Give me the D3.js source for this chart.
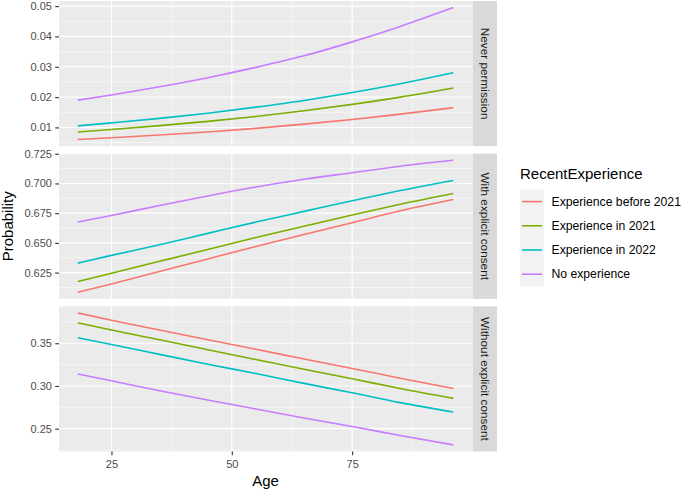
<!DOCTYPE html>
<html>
<head>
	<title></title>
	<script src="https://d3js.org/d3.v7.min.js" charset="utf-8"></script>
	<style type="text/css">
		body {
			margin: 0;
			background: white;
		}
		svg text {
			font-family: 'Liberation Sans', Arial, sans-serif;
		}
	</style>
</head>
<body>
	<script type="text/javascript">
		var w = 685;
		var h = 491;

		var ages = [18, 25, 35, 45, 55, 65, 75, 85, 96];
		var groups = ['Experience before 2021', 'Experience in 2021', 'Experience in 2022', 'No experience'];
		var colors = ['#F8766D', '#7CAE00', '#00BFC4', '#C77CFF'];
		var facets = ['Never permission', 'With explicit consent', 'Without explicit consent'];

		// Never permission
		var neverBefore2021 = [0.0060, 0.0066, 0.0075, 0.0085, 0.0097, 0.0111, 0.0126, 0.0144, 0.0165];
		var never2021 = [0.0085, 0.0093, 0.0106, 0.0120, 0.0136, 0.0155, 0.0176, 0.0200, 0.0230];
		var never2022 = [0.0105, 0.0115, 0.0130, 0.0147, 0.0167, 0.0189, 0.0215, 0.0244, 0.0280];
		var neverNone = [0.0190, 0.0207, 0.0234, 0.0264, 0.0298, 0.0336, 0.0382, 0.0433, 0.0495];

		// With explicit consent
		var withBefore2021 = [0.6085, 0.6155, 0.6260, 0.6365, 0.6470, 0.6570, 0.6670, 0.6770, 0.6865];
		var with2021 = [0.6175, 0.6245, 0.6345, 0.6445, 0.6545, 0.6640, 0.6735, 0.6825, 0.6915];
		var with2022 = [0.6330, 0.6395, 0.6485, 0.6580, 0.6675, 0.6765, 0.6855, 0.6940, 0.7025];
		var withNone = [0.6675, 0.6730, 0.6815, 0.6895, 0.6970, 0.7035, 0.7090, 0.7145, 0.7195];

		// Without explicit consent
		var withoutBefore2021 = [0.3855, 0.3770, 0.3655, 0.3540, 0.3430, 0.3315, 0.3205, 0.3090, 0.2970];
		var without2021 = [0.3740, 0.3655, 0.3540, 0.3425, 0.3310, 0.3195, 0.3085, 0.2970, 0.2855];
		var without2022 = [0.3565, 0.3485, 0.3370, 0.3255, 0.3145, 0.3030, 0.2920, 0.2805, 0.2695];
		var withoutNone = [0.3140, 0.3060, 0.2945, 0.2835, 0.2730, 0.2625, 0.2525, 0.2420, 0.2310];

		var xTicks = [25, 50, 75];
		var neverTicks = [0.01, 0.02, 0.03, 0.04, 0.05];
		var withTicks = [0.625, 0.650, 0.675, 0.700, 0.725];
		var withoutTicks = [0.25, 0.30, 0.35];

		var panels = [
			{ name: facets[0], series: [neverBefore2021, never2021, never2022, neverNone], ticks: neverTicks, fmt: d3.format('.2f') },
			{ name: facets[1], series: [withBefore2021, with2021, with2022, withNone], ticks: withTicks, fmt: d3.format('.3f') },
			{ name: facets[2], series: [withoutBefore2021, without2021, without2022, withoutNone], ticks: withoutTicks, fmt: d3.format('.2f') }
		];

		var plotLeft = 59, plotRight = 472;
		var plotTop = 1, plotBottom = 451.5;
		var gap = 7.5;
		var ph = (plotBottom - plotTop - 2 * gap) / 3;
		var stripW = 24.5;
		var tickFont = '11px';

		var svg = d3.select('body')
			.append('svg')
			.attr('width', w)
			.attr('height', h);

		// ggplot style 5% expansion
		function expand(lo, hi) {
			var d = (hi - lo) * 0.05;
			return [lo - d, hi + d];
		}

		var x = d3.scaleLinear()
			.domain(expand(d3.min(ages), d3.max(ages)))
			.range([plotLeft, plotRight]);

		var xMinor = [];
		for (var i = 0; i < xTicks.length; i++) xMinor.push(xTicks[i] + 12.5);
		xMinor.push(xTicks[0] - 12.5);
		xMinor = xMinor.filter(function (v) { return v > x.domain()[0] && v < x.domain()[1]; });

		panels.forEach(function (p, pi) {
			var y0 = plotTop + pi * (ph + gap);
			var all = d3.merge(p.series);
			var y = d3.scaleLinear()
				.domain(expand(d3.min(all), d3.max(all)))
				.range([y0 + ph, y0]);

			var g = svg.append('g');

			g.append('rect')
				.attr('x', plotLeft)
				.attr('y', y0)
				.attr('width', plotRight - plotLeft)
				.attr('height', ph)
				.attr('fill', '#EBEBEB');

			// minor grid
			var step = p.ticks[1] - p.ticks[0];
			var yMinor = p.ticks.map(function (t) { return t + step / 2; });
			yMinor.push(p.ticks[0] - step / 2);
			yMinor = yMinor.filter(function (v) { return v > y.domain()[0] && v < y.domain()[1]; });

			g.selectAll('.ymin')
				.data(yMinor)
				.enter()
				.append('line')
				.attr('x1', plotLeft).attr('x2', plotRight)
				.attr('y1', function (d) { return y(d); })
				.attr('y2', function (d) { return y(d); })
				.attr('stroke', 'white')
				.attr('stroke-width', 0.55);

			g.selectAll('.xmin')
				.data(xMinor)
				.enter()
				.append('line')
				.attr('y1', y0).attr('y2', y0 + ph)
				.attr('x1', function (d) { return x(d); })
				.attr('x2', function (d) { return x(d); })
				.attr('stroke', 'white')
				.attr('stroke-width', 0.55);

			// major grid
			g.selectAll('.ymaj')
				.data(p.ticks)
				.enter()
				.append('line')
				.attr('x1', plotLeft).attr('x2', plotRight)
				.attr('y1', function (d) { return y(d); })
				.attr('y2', function (d) { return y(d); })
				.attr('stroke', 'white')
				.attr('stroke-width', 1.1);

			g.selectAll('.xmaj')
				.data(xTicks)
				.enter()
				.append('line')
				.attr('y1', y0).attr('y2', y0 + ph)
				.attr('x1', function (d) { return x(d); })
				.attr('x2', function (d) { return x(d); })
				.attr('stroke', 'white')
				.attr('stroke-width', 1.1);

			var line = d3.line()
				.x(function (d, i) { return x(ages[i]); })
				.y(function (d) { return y(d); })
				.curve(d3.curveMonotoneX);

			g.selectAll('path.series')
				.data(p.series)
				.enter()
				.append('path')
				.attr('d', line)
				.attr('fill', 'none')
				.attr('stroke', function (d, i) { return colors[i]; })
				.attr('stroke-width', 1.6);

			// y axis
			var yAxis = d3.axisLeft(y)
				.tickValues(p.ticks)
				.tickFormat(p.fmt)
				.tickSize(3.8)
				.tickPadding(3.3);

			var ya = svg.append('g')
				.attr('transform', 'translate(' + plotLeft + ',0)')
				.call(yAxis);
			ya.select('.domain').remove();
			ya.selectAll('line').attr('stroke', '#333333').attr('stroke-width', 1.1);
			ya.selectAll('text')
				.attr('fill', '#4D4D4D')
				.style('font-size', tickFont)
				.style('font-family', "'Liberation Sans', Arial, sans-serif");

			// strip
			svg.append('rect')
				.attr('x', plotRight + 0.5)
				.attr('y', y0)
				.attr('width', stripW)
				.attr('height', ph)
				.attr('fill', '#D9D9D9');

			svg.append('text')
				.text(p.name)
				.attr('transform', 'translate(' + (plotRight + 0.5 + stripW / 2) + ',' + (y0 + ph / 2) + ') rotate(90)')
				.attr('text-anchor', 'middle')
				.attr('dy', '0.35em')
				.style('font-size', '11.8px')
				.style('fill', '#1A1A1A');
		});

		// x axis on bottom panel
		var xAxis = d3.axisBottom(x)
			.tickValues(xTicks)
			.tickSize(3.8)
			.tickPadding(5);

		var xa = svg.append('g')
			.attr('transform', 'translate(0,' + plotBottom + ')')
			.call(xAxis);
		xa.select('.domain').remove();
		xa.selectAll('line').attr('stroke', '#333333').attr('stroke-width', 1.1);
		xa.selectAll('text')
			.attr('fill', '#4D4D4D')
			.style('font-size', tickFont)
			.style('font-family', "'Liberation Sans', Arial, sans-serif");

		svg.append('text')
			.text('Age')
			.attr('x', (plotLeft + plotRight) / 2)
			.attr('y', 486)
			.attr('text-anchor', 'middle')
			.style('font-size', '15px')
			.style('fill', 'black');

		svg.append('text')
			.text('Probability')
			.attr('transform', 'translate(12.5,' + ((plotTop + plotBottom) / 2) + ') rotate(-90)')
			.attr('text-anchor', 'middle')
			.style('font-size', '15px')
			.style('fill', 'black');

		// legend
		var lg = svg.append('g').attr('transform', 'translate(520,0)');

		lg.append('text')
			.text('RecentExperience')
			.attr('x', 0)
			.attr('y', 179)
			.style('font-size', '15px')
			.style('fill', 'black');

		var keyH = 24.2;
		var keyTop = 189.5;

		var items = lg.selectAll('g.item')
			.data(groups)
			.enter()
			.append('g')
			.attr('transform', function (d, i) { return 'translate(0,' + (keyTop + i * keyH) + ')'; });

		items.append('rect')
			.attr('width', 24)
			.attr('height', keyH)
			.attr('fill', '#F2F2F2');

		items.append('line')
			.attr('x1', 2).attr('x2', 22)
			.attr('y1', keyH / 2).attr('y2', keyH / 2)
			.attr('stroke', function (d, i) { return colors[i]; })
			.attr('stroke-width', 1.6);

		items.append('text')
			.text(function (d) { return d; })
			.attr('x', 31.5)
			.attr('y', keyH / 2)
			.attr('dy', '0.35em')
			.style('font-size', '12.2px')
			.style('fill', 'black');
	</script>
</body>
</html>
